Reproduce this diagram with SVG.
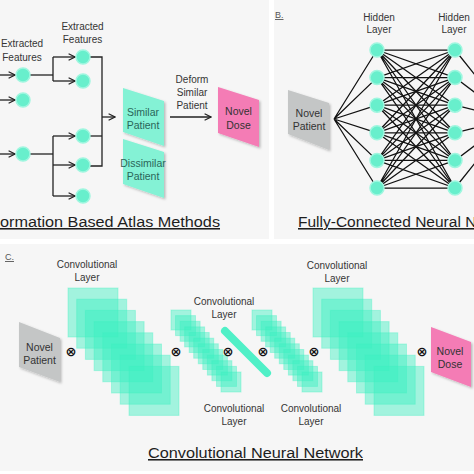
<svg xmlns="http://www.w3.org/2000/svg" width="474" height="474" viewBox="0 0 474 474">
<defs>
<marker id="chev" viewBox="0 0 10 10" refX="9" refY="5" markerWidth="8" markerHeight="8" markerUnits="userSpaceOnUse" orient="auto">
<path d="M1,1 L9,5 L1,9" fill="none" stroke="#222" stroke-width="1.4"/>
</marker>
<filter id="sh" x="-20%" y="-20%" width="150%" height="150%">
<feDropShadow dx="1.5" dy="1.5" stdDeviation="1" flood-color="#000" flood-opacity="0.25"/>
</filter>
</defs>
<style>
.panel{fill:#f6f6f6}
.lbl{font-family:"Liberation Sans",Arial,sans-serif;font-size:10px;fill:#353535;text-anchor:middle}
.shp{font-family:"Liberation Sans",Arial,sans-serif;font-size:10.5px;text-anchor:middle}
.ttl{font-family:"Liberation Sans",Arial,sans-serif;font-size:15.5px;fill:#1e1e1e;text-decoration:underline}
.tag{font-family:"Liberation Sans",Arial,sans-serif;font-size:9px;fill:#555;text-decoration:underline}
.node{fill:#68efcc;stroke:#9ff6df;stroke-width:1.5}
.ln{fill:none;stroke:#222;stroke-width:1.3}
.fc{fill:none;stroke:#111;stroke-width:1.25}
.sq{fill:#3cf0c0;fill-opacity:0.45;stroke:#3cf0c0;stroke-opacity:0.35;stroke-width:1}
.teal{fill:#84f2d5}
.pink{fill:#f47bb5}
.gray{fill:#c4c6c6}
.ox{font-family:"DejaVu Sans",sans-serif;font-size:13px;font-weight:bold;fill:#111;text-anchor:middle}
</style>
<rect width="474" height="474" fill="#ffffff"/>
<rect class="panel" x="0" y="0" width="269" height="239"/>
<rect class="panel" x="274" y="0" width="200" height="239"/>
<rect class="panel" x="0" y="244" width="474" height="227"/>

<!-- Panel A -->
<g id="connectors-a">
<line class="ln" x1="0" y1="75" x2="15" y2="75" marker-end="url(#chev)"/>
<line class="ln" x1="0" y1="100" x2="15" y2="100" marker-end="url(#chev)"/>
<line class="ln" x1="0" y1="154" x2="15" y2="154" marker-end="url(#chev)"/>
<polyline class="ln" points="30,75 53,75"/>
<polyline class="ln" points="53,57 53,81"/>
<line class="ln" x1="53" y1="57" x2="75" y2="57" marker-end="url(#chev)"/>
<line class="ln" x1="53" y1="81" x2="75" y2="81" marker-end="url(#chev)"/>
<polyline class="ln" points="30,154 53,154"/>
<polyline class="ln" points="53,136 53,196"/>
<line class="ln" x1="53" y1="136" x2="75" y2="136" marker-end="url(#chev)"/>
<line class="ln" x1="53" y1="165" x2="75" y2="165" marker-end="url(#chev)"/>
<line class="ln" x1="53" y1="196" x2="75" y2="196" marker-end="url(#chev)"/>
<polyline class="ln" points="90,57 102,57 102,166 90,166"/>
<line class="ln" x1="90" y1="136" x2="102" y2="136"/>
<line class="ln" x1="102" y1="117" x2="115" y2="117" marker-end="url(#chev)"/>
<line class="ln" x1="170" y1="117" x2="211" y2="117" marker-end="url(#chev)"/>
</g>
<g id="a-labels">
<text class="lbl" x="22" y="47">Extracted</text>
<text class="lbl" x="22" y="61">Features</text>
<text class="lbl" x="82.5" y="29.5">Extracted</text>
<text class="lbl" x="82.5" y="43">Features</text>
<text class="lbl" x="192" y="83">Deform</text>
<text class="lbl" x="192" y="96">Similar</text>
<text class="lbl" x="192" y="109">Patient</text>
</g>
<g id="a-n1"><circle class="node" cx="23" cy="75" r="7"/></g>
<g id="a-n2"><circle class="node" cx="23" cy="100" r="7"/></g>
<g id="a-n3"><circle class="node" cx="23" cy="154" r="7"/></g>
<g id="a-n4"><circle class="node" cx="83" cy="57" r="7"/></g>
<g id="a-n5"><circle class="node" cx="83" cy="81" r="7"/></g>
<g id="a-n6"><circle class="node" cx="83" cy="136" r="7"/></g>
<g id="a-n7"><circle class="node" cx="83" cy="165" r="7"/></g>
<g id="a-n8"><circle class="node" cx="83" cy="196" r="7"/></g>
<g id="a-similar">
<polygon class="teal" filter="url(#sh)" points="123,88 164,101 164,146 123,132"/>
<text class="shp" fill="#2a6659" x="143" y="116">Similar</text>
<text class="shp" fill="#2a6659" x="143" y="129">Patient</text>
</g>
<g id="a-dissimilar">
<polygon class="teal" filter="url(#sh)" points="123,139 164,152 164,198 123,184"/>
<text class="shp" fill="#2a6659" x="143" y="166.5">Dissimilar</text>
<text class="shp" fill="#2a6659" x="143" y="180">Patient</text>
</g>
<g id="a-dose">
<polygon class="pink" filter="url(#sh)" points="218,87 259,100 259,147 218,133"/>
<text class="shp" fill="#333" x="238.5" y="115">Novel</text>
<text class="shp" fill="#333" x="238.5" y="128.5">Dose</text>
</g>
<text class="ttl" x="0" y="227" textLength="220" lengthAdjust="spacingAndGlyphs">ormation Based Atlas Methods</text>

<!-- Panel B -->
<text class="tag" x="275" y="18">B.</text>
<text class="lbl" x="379" y="20.5">Hidden</text>
<text class="lbl" x="379" y="33">Layer</text>
<text class="lbl" x="454" y="20.5">Hidden</text>
<text class="lbl" x="454" y="33">Layer</text>
<g id="connectors-b">
<g class="fc">
<path d="M334,119 L377,50 M334,119 L377,77.6 M334,119 L377,105.2 M334,119 L377,132.8 M334,119 L377,160.4 M334,119 L377,188"/>
<path d="M377,50 L455,50 M377,50 L455,77.6 M377,50 L455,105.2 M377,50 L455,132.8 M377,50 L455,160.4 M377,50 L455,188"/>
<path d="M377,77.6 L455,50 M377,77.6 L455,77.6 M377,77.6 L455,105.2 M377,77.6 L455,132.8 M377,77.6 L455,160.4 M377,77.6 L455,188"/>
<path d="M377,105.2 L455,50 M377,105.2 L455,77.6 M377,105.2 L455,105.2 M377,105.2 L455,132.8 M377,105.2 L455,160.4 M377,105.2 L455,188"/>
<path d="M377,132.8 L455,50 M377,132.8 L455,77.6 M377,132.8 L455,105.2 M377,132.8 L455,132.8 M377,132.8 L455,160.4 M377,132.8 L455,188"/>
<path d="M377,160.4 L455,50 M377,160.4 L455,77.6 M377,160.4 L455,105.2 M377,160.4 L455,132.8 M377,160.4 L455,160.4 M377,160.4 L455,188"/>
<path d="M377,188 L455,50 M377,188 L455,77.6 M377,188 L455,105.2 M377,188 L455,132.8 M377,188 L455,160.4 M377,188 L455,188"/>
<path d="M455,50 L510,119 M455,77.6 L510,119 M455,105.2 L510,119 M455,132.8 L510,119 M455,160.4 L510,119 M455,188 L510,119"/>
</g>
</g>
<g id="b-patient">
<polygon class="gray" filter="url(#sh)" points="288,90 329,103 329,150 288,134"/>
<text class="shp" fill="#333" x="309" y="116.5">Novel</text>
<text class="shp" fill="#333" x="309" y="130">Patient</text>
</g>
<g id="b-h1-1"><circle class="node" cx="377" cy="50" r="7"/></g>
<g id="b-h1-2"><circle class="node" cx="377" cy="77.6" r="7"/></g>
<g id="b-h1-3"><circle class="node" cx="377" cy="105.2" r="7"/></g>
<g id="b-h1-4"><circle class="node" cx="377" cy="132.8" r="7"/></g>
<g id="b-h1-5"><circle class="node" cx="377" cy="160.4" r="7"/></g>
<g id="b-h1-6"><circle class="node" cx="377" cy="188" r="7"/></g>
<g id="b-h2-1"><circle class="node" cx="455" cy="50" r="7"/></g>
<g id="b-h2-2"><circle class="node" cx="455" cy="77.6" r="7"/></g>
<g id="b-h2-3"><circle class="node" cx="455" cy="105.2" r="7"/></g>
<g id="b-h2-4"><circle class="node" cx="455" cy="132.8" r="7"/></g>
<g id="b-h2-5"><circle class="node" cx="455" cy="160.4" r="7"/></g>
<g id="b-h2-6"><circle class="node" cx="455" cy="188" r="7"/></g>
<text class="ttl" x="298" y="227">Fully-Connected Neural N</text>

<!-- Panel C -->
<text class="tag" x="5" y="260">C.</text>
<g id="c-patient">
<polygon class="gray" filter="url(#sh)" points="19,322 60,338 60,382 19,367"/>
<text class="shp" fill="#333" x="39.5" y="351">Novel</text>
<text class="shp" fill="#333" x="39.5" y="364">Patient</text>
</g>
<g id="c-conv1">
<text class="lbl" x="87" y="268">Convolutional</text>
<text class="lbl" x="87" y="281">Layer</text>
<rect class="sq" x="68" y="288" width="50" height="49"/>
<rect class="sq" x="76.7" y="299.2" width="50" height="49"/>
<rect class="sq" x="85.4" y="310.4" width="50" height="49"/>
<rect class="sq" x="94.1" y="321.6" width="50" height="49"/>
<rect class="sq" x="102.8" y="332.8" width="50" height="49"/>
<rect class="sq" x="111.5" y="344" width="50" height="49"/>
<rect class="sq" x="120.2" y="355.2" width="50" height="49"/>
<rect class="sq" x="129" y="366.4" width="50" height="49"/>
</g>
<g id="c-conv2">
<rect class="sq" x="171" y="310" width="20" height="20"/>
<rect class="sq" x="175.5" y="315.6" width="20" height="20"/>
<rect class="sq" x="180.1" y="321.3" width="20" height="20"/>
<rect class="sq" x="184.6" y="326.9" width="20" height="20"/>
<rect class="sq" x="189.2" y="332.5" width="20" height="20"/>
<rect class="sq" x="193.7" y="338.2" width="20" height="20"/>
<rect class="sq" x="198.3" y="343.8" width="20" height="20"/>
<rect class="sq" x="202.8" y="349.5" width="20" height="20"/>
<rect class="sq" x="207.4" y="355.1" width="20" height="20"/>
<rect class="sq" x="211.9" y="360.7" width="20" height="20"/>
<rect class="sq" x="216.5" y="366.4" width="20" height="20"/>
<rect class="sq" x="221" y="372" width="20" height="20"/>
<text class="lbl" x="234" y="412">Convolutional</text>
<text class="lbl" x="234" y="425">Layer</text>
</g>
<g id="c-conv3">
<text class="lbl" x="224" y="305">Convolutional</text>
<text class="lbl" x="224" y="318">Layer</text>
<line x1="225" y1="331" x2="267" y2="373" stroke="#3ef0c2" stroke-opacity="0.9" stroke-width="8" stroke-linecap="round"/>
</g>
<g id="c-conv4">
<rect class="sq" x="252" y="310" width="20" height="20"/>
<rect class="sq" x="256.5" y="315.6" width="20" height="20"/>
<rect class="sq" x="261.1" y="321.3" width="20" height="20"/>
<rect class="sq" x="265.6" y="326.9" width="20" height="20"/>
<rect class="sq" x="270.2" y="332.5" width="20" height="20"/>
<rect class="sq" x="274.7" y="338.2" width="20" height="20"/>
<rect class="sq" x="279.3" y="343.8" width="20" height="20"/>
<rect class="sq" x="283.8" y="349.5" width="20" height="20"/>
<rect class="sq" x="288.4" y="355.1" width="20" height="20"/>
<rect class="sq" x="292.9" y="360.7" width="20" height="20"/>
<rect class="sq" x="297.5" y="366.4" width="20" height="20"/>
<rect class="sq" x="302" y="372" width="20" height="20"/>
<text class="lbl" x="311" y="412">Convolutional</text>
<text class="lbl" x="311" y="425">Layer</text>
</g>
<g id="c-conv5">
<text class="lbl" x="337" y="269">Convolutional</text>
<text class="lbl" x="337" y="282">Layer</text>
<rect class="sq" x="313" y="288" width="50" height="49"/>
<rect class="sq" x="321.7" y="299.2" width="50" height="49"/>
<rect class="sq" x="330.4" y="310.4" width="50" height="49"/>
<rect class="sq" x="339.1" y="321.6" width="50" height="49"/>
<rect class="sq" x="347.8" y="332.8" width="50" height="49"/>
<rect class="sq" x="356.5" y="344" width="50" height="49"/>
<rect class="sq" x="365.2" y="355.2" width="50" height="49"/>
<rect class="sq" x="374" y="366.4" width="50" height="49"/>
</g>
<g id="c-dose">
<polygon class="pink" filter="url(#sh)" points="431,327 471,342 471,387 431,372"/>
<text class="shp" fill="#333" x="450" y="355">Novel</text>
<text class="shp" fill="#333" x="450" y="368">Dose</text>
</g>
<g id="c-ops">
<text class="ox" x="71" y="355.5">⊗</text>
<text class="ox" x="176" y="355.5">⊗</text>
<text class="ox" x="228" y="355.5">⊗</text>
<text class="ox" x="263" y="355.5">⊗</text>
<text class="ox" x="314" y="355.5">⊗</text>
<text class="ox" x="422" y="355.5">⊗</text>
</g>
<text class="ttl" x="148" y="458" textLength="215" lengthAdjust="spacingAndGlyphs">Convolutional Neural Network</text>
</svg>
